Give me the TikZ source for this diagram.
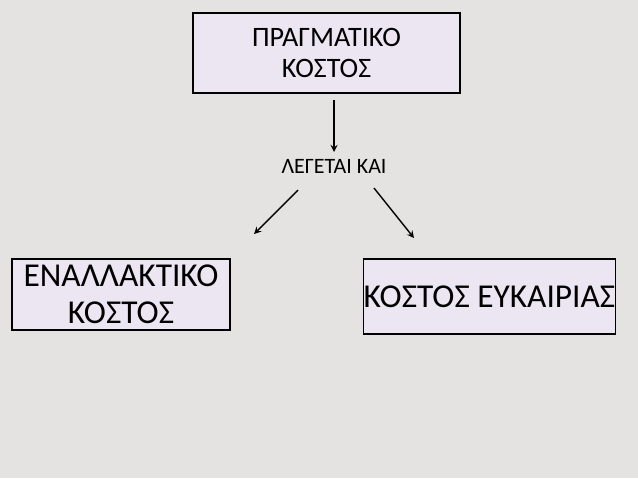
\documentclass[tikz,border=0pt]{standalone}
\usepackage{fontspec}
\setmainfont{Carlito}
\usetikzlibrary{positioning}
\definecolor{bgray}{HTML}{E4E3E1}
\definecolor{boxfill}{HTML}{EBE6F2}

\begin{document}
\begin{tikzpicture}[
    x=0.02cm, y=-0.02cm,
    box/.style={draw=black, thick, fill=boxfill, align=center, inner sep=0},
    link/.style={->, >=stealth, thick}]
\fill[bgray] (0,0) rectangle (638,478);
\useasboundingbox (0,0) rectangle (638,478);

\node[box, minimum width=267*0.02cm, minimum height=80*0.02cm, font=\fontsize{16}{18}\selectfont] (real) at (326.5,53) {ΠΡΑΓΜΑΤΙΚΟ\\ΚΟΣΤΟΣ};
\node[font=\fontsize{12.5}{14}\selectfont] (said) at (334,166) {ΛΕΓΕΤΑΙ ΚΑΙ};
\node[box, minimum width=218*0.02cm, minimum height=71*0.02cm, font=\fontsize{19}{21}\selectfont] (alt) at (121,294.5) {ΕΝΑΛΛΑΚΤΙΚΟ\\ΚΟΣΤΟΣ};
\node[box, minimum width=251*0.02cm, minimum height=75*0.02cm, font=\fontsize{19}{21}\selectfont] (opp) at (489.5,296.5) {ΚΟΣΤΟΣ ΕΥΚΑΙΡΙΑΣ};

\coordinate (a1) at (334,100);
\coordinate (a2) at (334,152);
\coordinate (l1) at (298,190);
\coordinate (l2) at (254,234);
\coordinate (r1) at (374,188);
\coordinate (r2) at (414,238);
\draw[link] (a1) -- (a2);
\draw[link] (l1) -- (l2);
\draw[link] (r1) -- (r2);
\end{tikzpicture}
\end{document}
